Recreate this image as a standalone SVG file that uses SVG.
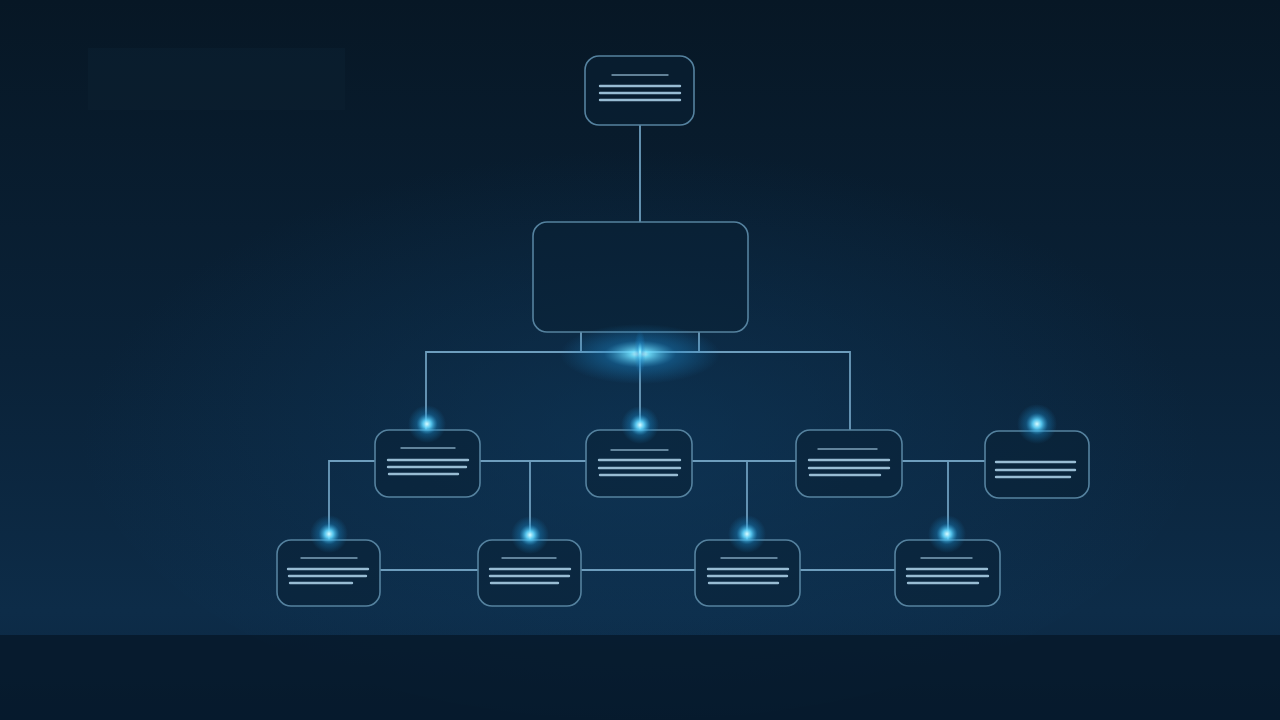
<svg xmlns="http://www.w3.org/2000/svg" width="1280" height="720" viewBox="0 0 1280 720">
<defs>
<linearGradient id="bg" x1="0" y1="0" x2="0" y2="1">
<stop offset="0" stop-color="#071725"/>
<stop offset="0.5" stop-color="#0a2238"/>
<stop offset="0.85" stop-color="#0d2c48"/>
<stop offset="1" stop-color="#0b2640"/>
</linearGradient>
<radialGradient id="center" cx="0.5" cy="0.55" r="0.5">
<stop offset="0" stop-color="#0f3a5e" stop-opacity="0.6"/>
<stop offset="1" stop-color="#0f3a5e" stop-opacity="0"/>
</radialGradient>
<radialGradient id="glow">
<stop offset="0" stop-color="#d8fbff" stop-opacity="1"/>
<stop offset="0.22" stop-color="#5fd6ff" stop-opacity="0.9"/>
<stop offset="0.55" stop-color="#1a8fd0" stop-opacity="0.35"/>
<stop offset="1" stop-color="#1a8fd0" stop-opacity="0"/>
</radialGradient>
<radialGradient id="bigglow" cx="0.5" cy="0.5" r="0.5">
<stop offset="0" stop-color="#e8feff" stop-opacity="1"/>
<stop offset="0.12" stop-color="#6fe0ff" stop-opacity="0.9"/>
<stop offset="0.45" stop-color="#1b86c8" stop-opacity="0.4"/>
<stop offset="1" stop-color="#1b86c8" stop-opacity="0"/>
</radialGradient>
<style>
.box{fill:#0a2035;fill-opacity:0.55;stroke:#55829f;stroke-width:1.6}
.wire{stroke:#6d9dbd;stroke-width:1.8;fill:none}
.ln{stroke:#98bcd3;stroke-width:2.4;stroke-linecap:round}
.hd{stroke:#7fa3bb;stroke-width:1.4;stroke-linecap:round}
</style>
</defs>
<rect width="1280" height="720" fill="url(#bg)"/>
<ellipse cx="640" cy="420" rx="560" ry="300" fill="url(#center)"/>
<rect x="88" y="48" width="257" height="62" fill="#0c1f31" fill-opacity="0.6"/>
<rect x="0" y="635" width="1280" height="85" fill="#061727" fill-opacity="0.75"/>

<g id="connectors">
<path class="wire" d="M640 125 V222"/>
<path class="wire" d="M581 332 V352 M699 332 V352"/>
<path class="wire" d="M426 430 V352 H850 V430"/>
<path class="wire" d="M640 352 V430"/>
<path class="wire" d="M329 540 V461 H375 M480 461 H586 M692 461 H796 M902 461 H985"/>
<path class="wire" d="M530 461 V540 M747 461 V540 M948 461 V540"/>
<path class="wire" d="M380 570 H478 M581 570 H695 M800 570 H895"/>
</g>

<g id="node-top">
<rect class="box" x="585" y="56" width="109" height="69" rx="14"/>
<line class="hd" x1="612" y1="75" x2="668" y2="75"/>
<line class="ln" x1="600" y1="86" x2="680" y2="86"/>
<line class="ln" x1="600" y1="93" x2="680" y2="93"/>
<line class="ln" x1="600" y1="100" x2="680" y2="100"/>
</g>

<g id="node-main">
<rect class="box" x="533" y="222" width="215" height="110" rx="14"/>
</g>

<g id="node-r2-1">
<rect class="box" x="375" y="430" width="105" height="67" rx="14"/>
<line class="hd" x1="401" y1="448" x2="455" y2="448"/>
<line class="ln" x1="388" y1="460" x2="468" y2="460"/>
<line class="ln" x1="388" y1="467" x2="466" y2="467"/>
<line class="ln" x1="389" y1="474" x2="458" y2="474"/>
</g>
<g id="node-r2-2">
<rect class="box" x="586" y="430" width="106" height="67" rx="14"/>
<line class="hd" x1="611" y1="450" x2="668" y2="450"/>
<line class="ln" x1="599" y1="460" x2="680" y2="460"/>
<line class="ln" x1="599" y1="468" x2="680" y2="468"/>
<line class="ln" x1="600" y1="475" x2="677" y2="475"/>
</g>
<g id="node-r2-3">
<rect class="box" x="796" y="430" width="106" height="67" rx="14"/>
<line class="hd" x1="818" y1="449" x2="877" y2="449"/>
<line class="ln" x1="809" y1="460" x2="889" y2="460"/>
<line class="ln" x1="809" y1="468" x2="889" y2="468"/>
<line class="ln" x1="810" y1="475" x2="880" y2="475"/>
</g>
<g id="node-r2-4">
<rect class="box" x="985" y="431" width="104" height="67" rx="14"/>
<line class="ln" x1="996" y1="462" x2="1075" y2="462"/>
<line class="ln" x1="996" y1="470" x2="1075" y2="470"/>
<line class="ln" x1="996" y1="477" x2="1070" y2="477"/>
</g>

<g id="node-r3-1">
<rect class="box" x="277" y="540" width="103" height="66" rx="14"/>
<line class="hd" x1="301" y1="558" x2="357" y2="558"/>
<line class="ln" x1="288" y1="569" x2="368" y2="569"/>
<line class="ln" x1="289" y1="576" x2="366" y2="576"/>
<line class="ln" x1="290" y1="583" x2="352" y2="583"/>
</g>
<g id="node-r3-2">
<rect class="box" x="478" y="540" width="103" height="66" rx="14"/>
<line class="hd" x1="502" y1="558" x2="556" y2="558"/>
<line class="ln" x1="490" y1="569" x2="570" y2="569"/>
<line class="ln" x1="490" y1="576" x2="569" y2="576"/>
<line class="ln" x1="491" y1="583" x2="558" y2="583"/>
</g>
<g id="node-r3-3">
<rect class="box" x="695" y="540" width="105" height="66" rx="14"/>
<line class="hd" x1="721" y1="558" x2="777" y2="558"/>
<line class="ln" x1="708" y1="569" x2="788" y2="569"/>
<line class="ln" x1="708" y1="576" x2="787" y2="576"/>
<line class="ln" x1="709" y1="583" x2="778" y2="583"/>
</g>
<g id="node-r3-4">
<rect class="box" x="895" y="540" width="105" height="66" rx="14"/>
<line class="hd" x1="921" y1="558" x2="972" y2="558"/>
<line class="ln" x1="907" y1="569" x2="987" y2="569"/>
<line class="ln" x1="907" y1="576" x2="988" y2="576"/>
<line class="ln" x1="908" y1="583" x2="978" y2="583"/>
</g>

<g id="glows">
<ellipse cx="640" cy="354" rx="80" ry="30" fill="url(#bigglow)"/>
<ellipse cx="640" cy="352" rx="6" ry="22" fill="url(#bigglow)"/>
<circle cx="427" cy="424" r="19" fill="url(#glow)"/>
<circle cx="640" cy="425" r="19" fill="url(#glow)"/>
<circle cx="1037" cy="424" r="20" fill="url(#glow)"/>
<circle cx="329" cy="534" r="19" fill="url(#glow)"/>
<circle cx="530" cy="535" r="19" fill="url(#glow)"/>
<circle cx="747" cy="534" r="19" fill="url(#glow)"/>
<circle cx="947" cy="534" r="19" fill="url(#glow)"/>
</g>
</svg>
